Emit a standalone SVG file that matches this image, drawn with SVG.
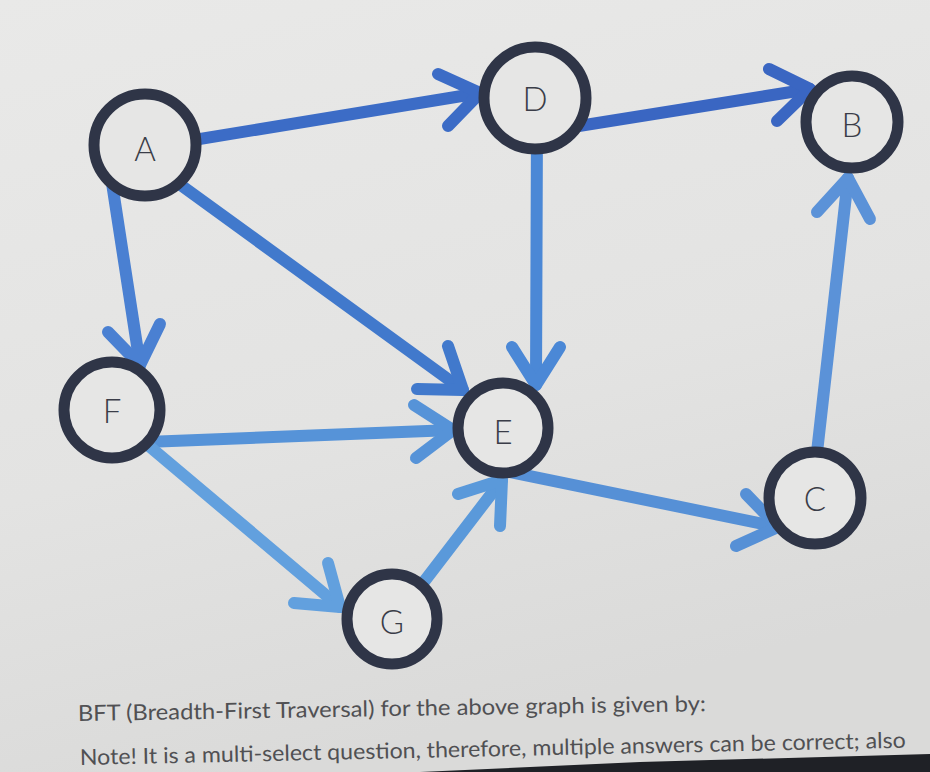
<svg xmlns="http://www.w3.org/2000/svg" width="930" height="772" viewBox="0 0 930 772">
<defs>
<linearGradient id="bg" x1="0" y1="0" x2="0.3" y2="1">
<stop offset="0" stop-color="#e9e9e8"/>
<stop offset="0.6" stop-color="#e3e3e2"/>
<stop offset="1" stop-color="#dadad9"/>
</linearGradient>
<style>
.edge{fill:none;stroke-width:12;stroke-linecap:round;stroke-linejoin:round}
.node circle{fill:#e6e6e5;stroke:#2f3547;stroke-width:11}
.node text{font-family:Lato,"Open Sans",sans-serif;font-weight:300;font-size:33px;fill:#3a3d48;text-anchor:middle;dominant-baseline:central}
.cap{font-family:Lato,"Open Sans",sans-serif;fill:#505053}
</style>
</defs>
<rect width="930" height="772" fill="url(#bg)"/>
<g id="connectors">
<g id="A-D" class="edge" stroke="#3c6cc6"><path d="M145,148 L480,93"/><path d="M438,74 L480,93 L448,126"/></g>
<g id="D-B" class="edge" stroke="#3a66c2"><path d="M535,133 L810,89"/><path d="M769,69 L810,89 L777,121"/></g>
<g id="A-F" class="edge" stroke="#4a80d2"><path d="M110,170 L140,365"/><path d="M108,332 L140,365 L160,324"/></g>
<g id="A-E" class="edge" stroke="#4179cc"><path d="M160,170 L463,390"/><path d="M448,346 L463,390 L417,389"/></g>
<g id="D-E" class="edge" stroke="#4b88d6"><path d="M537,120 L536,385"/><path d="M512,347 L536,385 L560,347"/></g>
<g id="F-E" class="edge" stroke="#5693d8"><path d="M120,443 L453,430"/><path d="M414,405 L453,430 L416,458"/></g>
<g id="F-G" class="edge" stroke="#62a0de"><path d="M130,430 L340,607"/><path d="M328,563 L340,607 L294,603"/></g>
<g id="G-E" class="edge" stroke="#5a99da"><path d="M410,600 L502,480"/><path d="M458,494 L502,480 L500,526"/></g>
<g id="E-C" class="edge" stroke="#5690d6"><path d="M500,470 L778,527"/><path d="M746,494 L778,527 L736,546"/></g>
<g id="C-B" class="edge" stroke="#5b92d8"><path d="M815,470 L848,178"/><path d="M817,212 L848,178 L870,219"/></g>
</g>
<g id="A" class="node"><circle cx="145" cy="145" r="51"/><text x="145" y="148">A</text></g>
<g id="D" class="node"><circle cx="535" cy="98" r="51"/><text x="535" y="98">D</text></g>
<g id="B" class="node"><circle cx="852" cy="122" r="46"/><text x="852" y="124">B</text></g>
<g id="F" class="node"><circle cx="112" cy="410" r="48"/><text x="112" y="410">F</text></g>
<g id="E" class="node"><circle cx="503" cy="428" r="45"/><text x="503" y="431">E</text></g>
<g id="C" class="node"><circle cx="815" cy="498" r="46"/><text x="815" y="498">C</text></g>
<g id="G" class="node"><circle cx="392" cy="619" r="45"/><text x="392" y="621">G</text></g>
<text class="cap" x="78" y="721" font-size="22" textLength="628" lengthAdjust="spacingAndGlyphs" transform="rotate(-0.9 78 721)">BFT (Breadth-First Traversal) for the above graph is given by:</text>
<text class="cap" x="80" y="765" font-size="22" textLength="826" lengthAdjust="spacingAndGlyphs" transform="rotate(-1.2 80 765)">Note! It is a multi-select question, therefore, multiple answers can be correct; also</text>
<polygon points="420,772 640,762 930,754 930,772" fill="#1f2126"/>
</svg>
